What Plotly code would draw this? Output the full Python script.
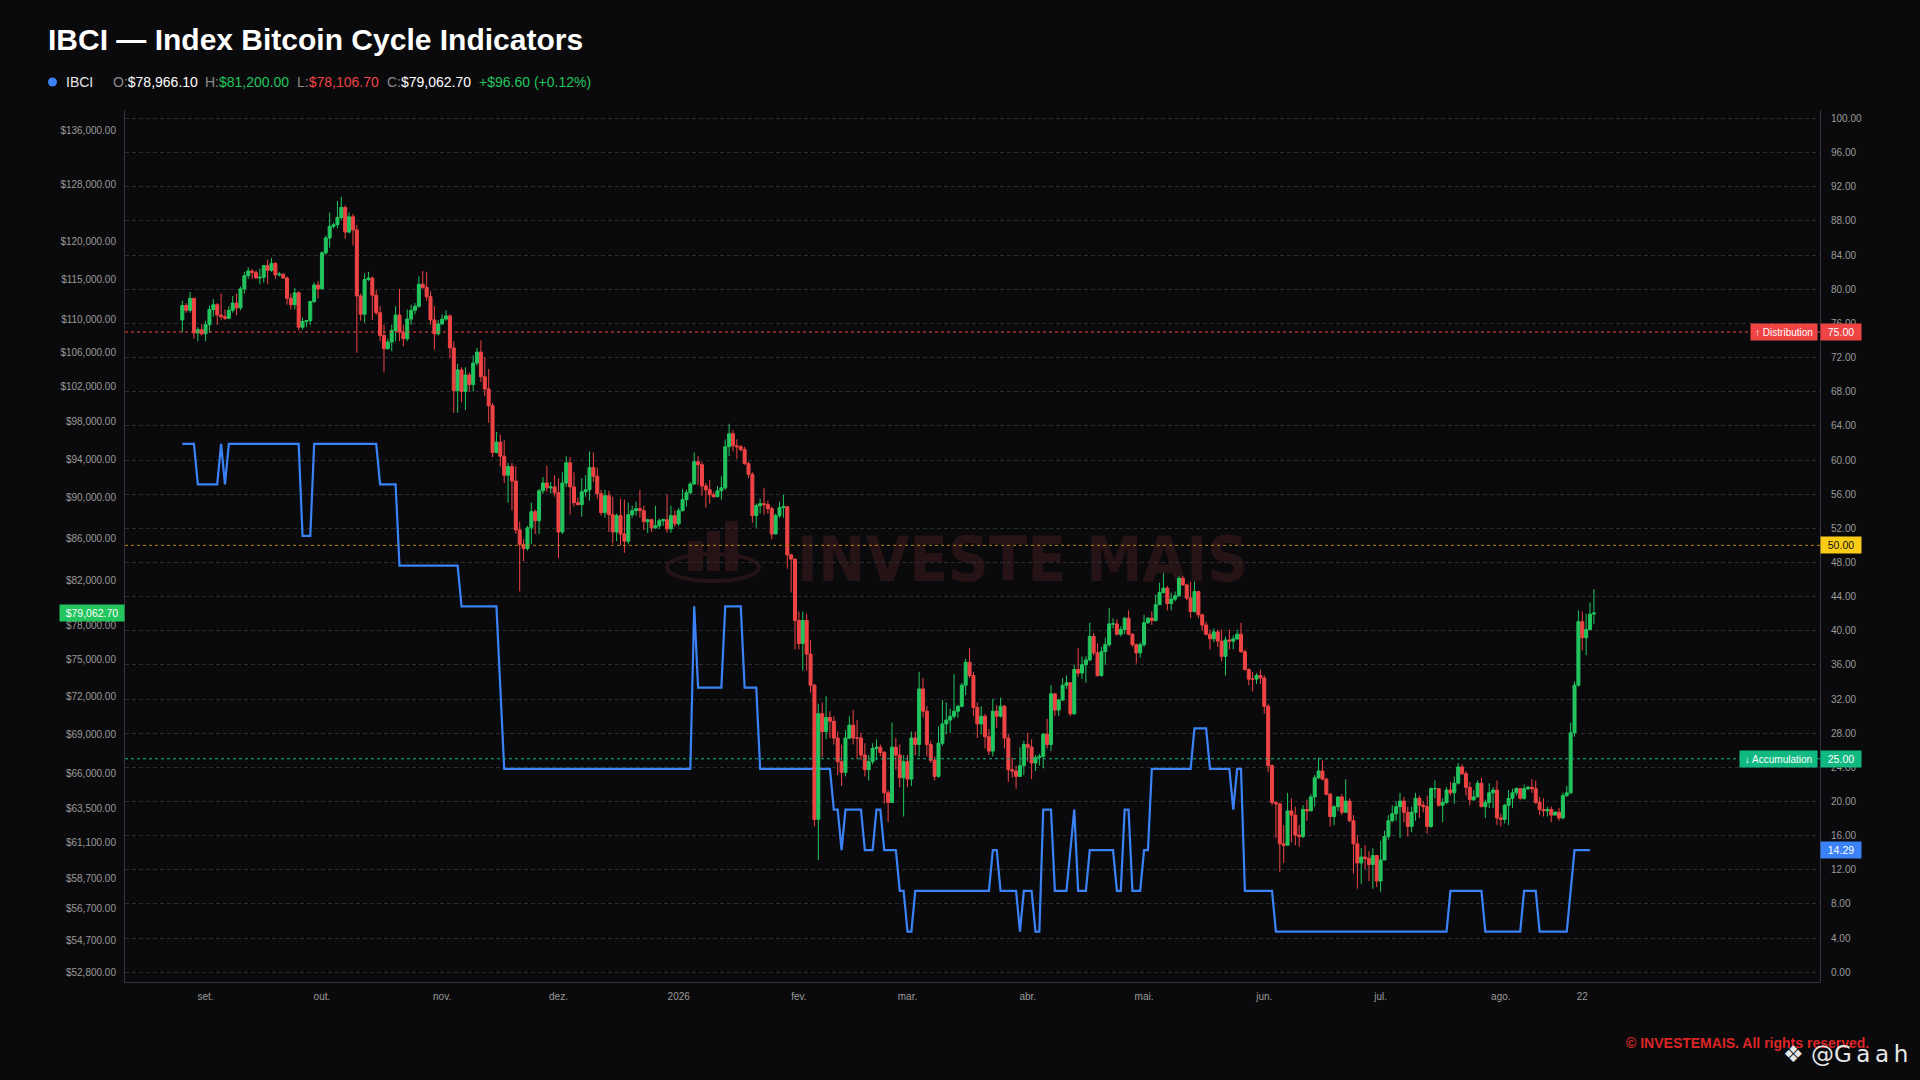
import numpy as np
import pandas as pd
import plotly.graph_objects as go

# ---- data (daily candles, thousands of USD) ----
START_DATE = "2025-08-26"
FIRST_OPEN_K = 109.9

CLOSE_K = [
    111.7, 111.1, 112.6, 108.3, 108.7, 108.2, 109.3, 111.2, 111.8, 110.5,
    110.3, 110.1, 111.1, 112.0, 111.4, 113.8, 115.5, 116.1, 115.9, 115.2,
    115.3, 116.8, 116.2, 117.1, 115.6, 115.7, 115.2, 112.6, 111.8, 113.3,
    109.0, 109.7, 109.8, 112.2, 114.3, 113.8, 118.5, 120.5, 122.1, 122.3,
    123.3, 124.7, 121.3, 123.4, 121.6, 112.9, 110.6, 115.0, 115.2, 113.0,
    110.8, 108.0, 106.4, 107.2, 108.6, 110.5, 108.4, 107.6, 110.0, 111.1,
    111.6, 114.4, 114.0, 112.8, 109.9, 108.2, 109.4, 110.0, 110.4, 106.5,
    101.5, 103.9, 101.4, 103.3, 102.2, 104.7, 106.0, 103.1, 101.7, 99.8,
    94.7, 95.8, 94.3, 92.3, 93.2, 91.7, 86.8, 85.4, 85.0, 87.0,
    88.6, 87.7, 90.7, 91.5, 91.0, 91.1, 90.5, 86.6, 91.5, 93.6,
    91.1, 89.5, 89.3, 90.6, 90.8, 93.1, 92.2, 90.4, 88.5, 90.2,
    88.3, 86.6, 88.2, 86.4, 85.7, 88.3, 88.7, 88.9, 88.7, 87.6,
    87.8, 87.0, 87.2, 87.7, 87.8, 86.9, 88.2, 87.4, 88.7, 89.8,
    90.5, 91.4, 93.7, 93.4, 91.2, 90.8, 90.3, 90.1, 90.7, 91.0,
    95.3, 96.7, 95.4, 95.3, 95.0, 93.5, 92.4, 88.2, 89.2, 89.4,
    89.3, 88.9, 86.4, 88.2, 89.0, 89.1, 84.4, 84.0, 78.4, 76.4,
    78.4, 75.5, 72.9, 62.7, 70.6, 69.2, 70.3, 70.0, 68.7, 66.9,
    66.1, 68.7, 69.7, 68.7, 68.7, 67.4, 66.3, 66.9, 67.9, 68.0,
    67.6, 64.6, 63.9, 68.0, 67.4, 65.7, 66.9, 65.6, 68.7, 68.2,
    72.6, 70.8, 68.2, 67.0, 65.8, 68.3, 69.8, 70.1, 70.4, 70.8,
    71.2, 72.9, 74.8, 73.7, 71.1, 69.8, 70.4, 68.8, 67.7, 70.8,
    70.4, 71.2, 68.7, 66.3, 66.2, 65.8, 66.6, 68.2, 68.0, 66.8,
    67.2, 67.3, 69.0, 68.2, 72.2, 70.9, 71.7, 72.9, 73.1, 70.6,
    74.2, 73.9, 74.6, 75.0, 77.0, 75.6, 73.7, 75.7, 76.3, 78.1,
    78.1, 77.2, 77.6, 78.6, 77.2, 76.3, 75.6, 76.3, 78.2, 78.6,
    78.4, 79.8, 80.9, 81.3, 79.9, 80.3, 80.6, 82.2, 81.6, 80.4,
    79.2, 81.0, 78.9, 78.0, 77.2, 76.8, 77.4, 76.6, 75.3, 76.7,
    76.6, 76.8, 77.2, 75.7, 74.2, 73.4, 73.4, 73.7, 73.5, 71.2,
    66.6, 63.9, 63.8, 61.0, 60.9, 63.3, 63.0, 61.6, 61.5, 63.4,
    63.3, 64.3, 65.7, 66.2, 65.6, 64.5, 62.9, 63.6, 64.3, 63.2,
    64.0, 62.6, 61.0, 59.7, 60.1, 60.0, 59.6, 60.2, 58.5, 59.9,
    61.5, 62.6, 63.1, 63.6, 64.0, 63.2, 62.2, 63.2, 64.2, 63.7,
    63.6, 62.2, 64.9, 64.9, 63.7, 63.9, 64.8, 64.6, 65.3, 66.5,
    66.0, 65.0, 64.1, 64.3, 65.3, 63.6, 63.9, 64.6, 64.8, 62.8,
    62.7, 63.7, 64.2, 64.6, 64.9, 64.2, 64.9, 65.0, 64.9, 63.9,
    63.4, 63.3, 63.4, 63.0, 63.2, 62.8, 64.4, 64.6, 69.1, 72.9,
    78.3, 76.9, 77.6, 78.9661, 79.0627,
]

HIGH_K = [
    112.3, 112.0, 113.4, 112.6, 109.0, 109.4, 109.8, 111.7, 112.5, 112.0,
    113.2, 111.2, 111.6, 112.9, 113.2, 114.1, 116.0, 116.6, 116.4, 116.2,
    116.4, 116.9, 117.6, 117.8, 117.3, 116.0, 115.8, 115.4, 113.2, 113.9,
    113.5, 110.2, 109.9, 112.3, 114.6, 114.8, 118.7, 120.8, 124.0, 122.6,
    125.6, 126.2, 125.0, 124.0, 123.8, 122.3, 113.2, 115.8, 116.0, 115.4,
    113.7, 111.6, 109.3, 107.6, 109.3, 111.6, 113.8, 109.3, 111.2, 111.8,
    112.0, 115.4, 116.1, 116.0, 113.5, 111.6, 109.9, 110.6, 111.1, 110.6,
    107.3, 104.6, 104.2, 104.2, 103.6, 105.6, 106.5, 107.4, 105.4, 104.0,
    100.1, 96.9, 96.6, 96.0, 93.6, 93.6, 93.2, 87.6, 85.9, 87.2,
    89.5, 88.8, 90.9, 92.1, 93.3, 91.6, 92.3, 92.0, 92.6, 94.3,
    94.2, 92.6, 90.0, 92.0, 92.3, 94.8, 94.7, 93.1, 90.8, 90.8,
    90.7, 90.1, 88.4, 89.9, 89.8, 89.5, 89.2, 89.6, 90.8, 89.2,
    87.9, 87.9, 89.2, 87.9, 87.9, 90.3, 89.2, 88.7, 89.0, 90.9,
    90.8, 91.6, 94.7, 94.3, 93.7, 91.5, 91.8, 90.6, 91.2, 92.2,
    96.1, 97.8, 97.1, 96.1, 95.5, 95.3, 93.7, 92.6, 89.4, 89.9,
    91.0, 89.7, 89.1, 88.4, 89.6, 90.3, 89.1, 84.5, 84.0, 79.2,
    79.2, 79.0, 76.7, 73.0, 71.4, 71.5, 72.0, 70.8, 70.4, 69.2,
    68.2, 69.3, 70.4, 70.9, 70.1, 69.1, 68.3, 67.4, 68.3, 68.6,
    68.2, 67.7, 64.8, 69.9, 68.7, 68.2, 67.4, 67.4, 69.2, 69.2,
    74.0, 73.5, 71.2, 68.5, 67.3, 69.6, 71.7, 71.5, 71.0, 73.8,
    71.3, 73.1, 75.1, 76.0, 74.0, 71.5, 71.2, 70.6, 69.4, 71.8,
    71.3, 71.9, 71.3, 69.0, 67.2, 66.6, 68.0, 68.5, 69.1, 68.6,
    67.4, 67.5, 69.1, 70.2, 72.9, 72.0, 71.8, 73.5, 73.7, 73.1,
    74.6, 76.0, 75.3, 75.3, 78.2, 77.3, 76.4, 76.1, 76.9, 79.5,
    78.6, 78.5, 77.9, 78.7, 79.3, 77.3, 76.4, 76.5, 78.9, 78.7,
    79.2, 80.7, 81.8, 82.7, 81.5, 80.9, 81.0, 82.4, 82.4, 81.7,
    81.9, 81.9, 81.0, 79.0, 78.3, 77.6, 77.7, 77.6, 77.6, 77.0,
    77.6, 77.1, 77.6, 78.2, 75.9, 74.3, 74.0, 73.9, 74.2, 73.7,
    71.4, 66.7, 64.0, 63.9, 62.3, 64.6, 64.2, 63.6, 62.3, 63.7,
    64.1, 64.5, 65.9, 67.2, 67.0, 65.7, 64.6, 63.7, 64.3, 64.5,
    65.6, 64.2, 63.0, 61.6, 60.7, 60.9, 60.5, 60.7, 60.2, 61.2,
    61.9, 63.0, 63.7, 64.0, 64.6, 64.3, 63.6, 63.6, 64.6, 64.4,
    64.0, 64.4, 65.0, 65.5, 64.9, 64.2, 65.0, 65.4, 65.8, 66.8,
    66.7, 66.2, 65.4, 64.8, 65.5, 65.7, 64.1, 65.3, 65.0, 65.5,
    63.1, 63.8, 64.8, 64.9, 65.0, 64.8, 65.2, 65.1, 65.6, 65.5,
    64.3, 64.2, 63.6, 63.6, 63.3, 63.5, 64.6, 65.1, 69.9, 73.2,
    79.3, 79.2, 79.0, 80.0, 81.2,
]

LOW_K = [
    108.4, 110.8, 110.8, 107.6, 107.3, 108.0, 107.3, 108.3, 110.3, 109.3,
    109.9, 109.9, 110.0, 110.8, 110.5, 111.1, 113.2, 115.1, 115.1, 115.1,
    114.4, 114.6, 114.4, 116.0, 115.1, 115.4, 115.1, 111.8, 111.2, 111.2,
    108.6, 108.7, 109.0, 109.3, 112.0, 112.6, 113.8, 118.2, 119.2, 121.8,
    121.8, 122.9, 120.4, 121.1, 119.5, 105.9, 109.8, 109.6, 114.8, 109.9,
    110.5, 107.3, 103.6, 106.3, 106.1, 107.3, 107.3, 106.7, 107.3, 109.3,
    110.6, 111.4, 113.8, 112.3, 109.3, 106.3, 108.0, 109.3, 109.8, 105.3,
    99.0, 99.0, 100.2, 99.3, 101.4, 101.4, 104.4, 102.5, 100.9, 97.9,
    94.2, 94.6, 93.2, 91.5, 89.5, 88.7, 86.4, 81.0, 83.8, 84.8,
    85.4, 86.4, 86.4, 90.4, 90.6, 90.4, 90.1, 84.1, 86.4, 91.1,
    88.3, 89.1, 89.2, 88.1, 90.1, 89.7, 91.6, 89.9, 88.2, 88.0,
    86.6, 85.5, 85.7, 85.3, 84.6, 85.4, 88.0, 88.2, 88.0, 86.8,
    86.5, 86.6, 86.9, 86.9, 87.2, 86.5, 86.5, 87.1, 87.2, 88.6,
    89.1, 90.3, 91.3, 91.3, 90.2, 89.0, 89.4, 90.0, 90.1, 89.8,
    90.8, 94.3, 94.8, 94.0, 94.8, 93.4, 92.0, 87.5, 87.0, 88.4,
    88.3, 88.4, 85.9, 86.4, 88.0, 88.0, 83.1, 80.9, 75.9, 75.9,
    74.1, 74.1, 72.3, 62.2, 59.9, 67.2, 68.6, 68.7, 68.2, 65.9,
    65.1, 65.8, 68.6, 68.2, 67.1, 67.0, 65.8, 65.5, 66.7, 67.0,
    67.3, 63.8, 62.5, 63.9, 66.3, 65.0, 62.9, 65.0, 65.1, 67.4,
    67.3, 70.3, 67.3, 66.8, 65.5, 65.7, 68.1, 69.0, 69.1, 70.2,
    70.3, 71.1, 72.1, 73.5, 70.4, 68.7, 69.0, 67.9, 67.4, 67.3,
    69.5, 70.3, 67.9, 65.4, 65.7, 64.9, 65.8, 65.9, 66.9, 65.6,
    66.2, 66.6, 66.4, 67.9, 67.7, 70.4, 70.4, 71.6, 72.6, 70.4,
    70.5, 73.6, 73.4, 73.1, 74.9, 75.4, 73.6, 73.6, 74.6, 76.1,
    77.7, 77.1, 77.0, 77.2, 77.1, 76.1, 74.7, 75.2, 76.1, 78.1,
    78.0, 78.3, 79.8, 80.8, 79.3, 79.3, 80.1, 80.5, 81.5, 80.2,
    78.6, 79.1, 78.6, 77.5, 77.1, 75.9, 76.5, 76.1, 74.9, 73.7,
    75.9, 75.9, 76.7, 75.6, 74.1, 72.9, 72.4, 73.0, 73.0, 70.6,
    66.1, 63.7, 61.4, 59.1, 59.7, 60.9, 61.1, 60.9, 60.8, 61.4,
    62.6, 63.3, 63.6, 65.6, 65.5, 64.4, 62.2, 62.3, 63.3, 63.0,
    63.2, 62.5, 59.0, 58.0, 58.3, 59.3, 58.5, 58.0, 58.1, 57.8,
    59.9, 61.3, 62.5, 62.6, 61.4, 62.5, 61.5, 61.8, 62.6, 62.8,
    63.2, 61.7, 62.1, 64.2, 63.6, 62.5, 63.8, 64.4, 63.8, 65.2,
    65.9, 64.4, 63.7, 64.0, 64.3, 63.6, 62.8, 63.5, 63.5, 62.3,
    62.2, 62.4, 62.3, 63.5, 64.4, 64.1, 64.1, 64.8, 64.6, 63.8,
    63.0, 62.9, 62.9, 62.5, 63.0, 62.6, 62.7, 64.3, 64.5, 68.8,
    72.8, 75.8, 75.4, 77.6, 78.1067,
]

# IBCI indicator, right axis (0-100), one value per day
IBCI = [
    61.90, 61.90, 61.90, 61.90, 57.14, 57.14, 57.14, 57.14, 57.14, 57.14,
    61.90, 57.14, 61.90, 61.90, 61.90, 61.90, 61.90, 61.90, 61.90, 61.90,
    61.90, 61.90, 61.90, 61.90, 61.90, 61.90, 61.90, 61.90, 61.90, 61.90,
    61.90, 51.11, 51.11, 51.11, 61.90, 61.90, 61.90, 61.90, 61.90, 61.90,
    61.90, 61.90, 61.90, 61.90, 61.90, 61.90, 61.90, 61.90, 61.90, 61.90,
    61.90, 57.14, 57.14, 57.14, 57.14, 57.14, 47.62, 47.62, 47.62, 47.62,
    47.62, 47.62, 47.62, 47.62, 47.62, 47.62, 47.62, 47.62, 47.62, 47.62,
    47.62, 47.62, 42.86, 42.86, 42.86, 42.86, 42.86, 42.86, 42.86, 42.86,
    42.86, 42.86, 33.33, 23.81, 23.81, 23.81, 23.81, 23.81, 23.81, 23.81,
    23.81, 23.81, 23.81, 23.81, 23.81, 23.81, 23.81, 23.81, 23.81, 23.81,
    23.81, 23.81, 23.81, 23.81, 23.81, 23.81, 23.81, 23.81, 23.81, 23.81,
    23.81, 23.81, 23.81, 23.81, 23.81, 23.81, 23.81, 23.81, 23.81, 23.81,
    23.81, 23.81, 23.81, 23.81, 23.81, 23.81, 23.81, 23.81, 23.81, 23.81,
    23.81, 23.81, 42.86, 33.33, 33.33, 33.33, 33.33, 33.33, 33.33, 33.33,
    42.86, 42.86, 42.86, 42.86, 42.86, 33.33, 33.33, 33.33, 33.33, 23.81,
    23.81, 23.81, 23.81, 23.81, 23.81, 23.81, 23.81, 23.81, 23.81, 23.81,
    23.81, 23.81, 23.81, 23.81, 23.81, 23.81, 23.81, 23.81, 19.05, 19.05,
    14.29, 19.05, 19.05, 19.05, 19.05, 19.05, 14.29, 14.29, 14.29, 19.05,
    19.05, 14.29, 14.29, 14.29, 14.29, 9.52, 9.52, 4.76, 4.76, 9.52,
    9.52, 9.52, 9.52, 9.52, 9.52, 9.52, 9.52, 9.52, 9.52, 9.52,
    9.52, 9.52, 9.52, 9.52, 9.52, 9.52, 9.52, 9.52, 9.52, 14.29,
    14.29, 9.52, 9.52, 9.52, 9.52, 9.52, 4.76, 9.52, 9.52, 9.52,
    4.76, 4.76, 19.05, 19.05, 19.05, 9.52, 9.52, 9.52, 9.52, 14.29,
    19.05, 9.52, 9.52, 9.52, 14.29, 14.29, 14.29, 14.29, 14.29, 14.29,
    14.29, 9.52, 9.52, 19.05, 19.05, 9.52, 9.52, 9.52, 14.29, 14.29,
    23.81, 23.81, 23.81, 23.81, 23.81, 23.81, 23.81, 23.81, 23.81, 23.81,
    23.81, 28.57, 28.57, 28.57, 28.57, 23.81, 23.81, 23.81, 23.81, 23.81,
    23.81, 19.05, 23.81, 23.81, 9.52, 9.52, 9.52, 9.52, 9.52, 9.52,
    9.52, 9.52, 4.76, 4.76, 4.76, 4.76, 4.76, 4.76, 4.76, 4.76,
    4.76, 4.76, 4.76, 4.76, 4.76, 4.76, 4.76, 4.76, 4.76, 4.76,
    4.76, 4.76, 4.76, 4.76, 4.76, 4.76, 4.76, 4.76, 4.76, 4.76,
    4.76, 4.76, 4.76, 4.76, 4.76, 4.76, 4.76, 4.76, 4.76, 4.76,
    4.76, 4.76, 4.76, 4.76, 4.76, 4.76, 4.76, 9.52, 9.52, 9.52,
    9.52, 9.52, 9.52, 9.52, 9.52, 9.52, 4.76, 4.76, 4.76, 4.76,
    4.76, 4.76, 4.76, 4.76, 4.76, 4.76, 9.52, 9.52, 9.52, 9.52,
    4.76, 4.76, 4.76, 4.76, 4.76, 4.76, 4.76, 4.76, 9.52, 14.29,
    14.29, 14.29, 14.29, 14.29, None,
]

PRICE_TICKS = [52800, 54700, 56700, 58700, 61100, 63500, 66000, 69000, 72000,
               75000, 78000, 82000, 86000, 90000, 94000, 98000, 102000, 106000,
               110000, 115000, 120000, 128000, 136000]
DATE_TICKS = ["2025-09-01", "2025-10-01", "2025-11-01", "2025-12-01", "2026-01-01",
              "2026-02-01", "2026-03-01", "2026-04-01", "2026-05-01", "2026-06-01",
              "2026-07-01", "2026-08-01", "2026-08-22"]
DATE_LABELS = ["set.", "out.", "nov.", "dez.", "2026", "fev.", "mar.", "abr.",
               "mai.", "jun.", "jul.", "ago.", "22"]
ZONES = [(75, "↑ Distribution", 64), (50, None, 0), (25, "↓ Accumulation", 75)]

# ---- colours ----
BG = "#0a0a0c"
GRID = "#2b2b30"
AXIS = "#34343a"
TICK = "#9a9a9a"
UP = "#22c55e"
DOWN = "#ef4444"
BLUE = "#3b82f6"
ZONE_LINE = {75: "#ef4444", 50: "#b8860b", 25: "#10b981"}
ZONE_BOX = {75: "#ef4444", 50: "#facc15", 25: "#10b981"}
WM = "#261315"
FONT = "Liberation Sans, Arial, sans-serif"

W, H = 1920, 1080
X0, X1 = 125 / W, 1820 / W
Y0, Y1 = 1 - 982 / H, 1 - 110 / H


def px(x):
    return x / W


def py(y):
    return 1 - y / H


dates = pd.date_range(START_DATE, periods=len(CLOSE_K), freq="D")
open_k = [FIRST_OPEN_K] + CLOSE_K[:-1]
opens = [o * 1000 for o in open_k]
closes = [c * 1000 for c in CLOSE_K]
highs = [max(h, o, c) * 1000 for h, o, c in zip(HIGH_K, open_k, CLOSE_K)]
lows = [min(l, o, c) * 1000 for l, o, c in zip(LOW_K, open_k, CLOSE_K)]

fig = go.Figure()

fig.add_trace(go.Scatter(
    x=dates, y=IBCI, mode="lines", yaxis="y",
    line=dict(color=BLUE, width=2.2), hoverinfo="skip"))

fig.add_trace(go.Candlestick(
    x=dates, open=opens, high=highs, low=lows, close=closes, yaxis="y2",
    increasing=dict(line=dict(color=UP, width=1), fillcolor=UP),
    decreasing=dict(line=dict(color=DOWN, width=1), fillcolor=DOWN),
    whiskerwidth=0))

fig.update_layout(
    width=W, height=H,
    paper_bgcolor=BG, plot_bgcolor=BG,
    margin=dict(l=0, r=0, t=0, b=0),
    showlegend=False,
    boxgap=0.12, boxgroupgap=0.12,
    font=dict(family=FONT, color=TICK, size=10),
    xaxis=dict(
        type="date", domain=[X0, X1],
        range=["2025-08-11 05:17", "2026-10-22 07:12"],
        tickvals=DATE_TICKS, ticktext=DATE_LABELS,
        showgrid=False, zeroline=False, showline=True, linecolor=AXIS,
        ticks="", ticklabelstandoff=5,
        tickfont=dict(size=10, color=TICK),
        rangeslider=dict(visible=False)),
    yaxis=dict(
        domain=[Y0, Y1], side="right", anchor="x",
        range=[-1.15, 101.0], tick0=0, dtick=4, tickformat=".2f",
        showgrid=True, gridcolor=GRID, griddash="4px,3px", gridwidth=1,
        zeroline=False, showline=True, linecolor=AXIS,
        ticks="", ticklabelstandoff=8,
        tickfont=dict(size=10, color=TICK)),
    yaxis2=dict(
        overlaying="y", side="left", anchor="x", type="log",
        range=[np.log10(52227), np.log10(139137)],
        tickvals=PRICE_TICKS, ticktext=[f"${v:,.2f}" for v in PRICE_TICKS],
        showgrid=False, zeroline=False, showline=True, linecolor=AXIS,
        ticks="", ticklabelstandoff=6,
        tickfont=dict(size=10, color=TICK)),
)

# zone lines and their badges
for level, name, bw in ZONES:
    fig.add_shape(type="line", xref="x domain", x0=0, x1=1, yref="y",
                  y0=level, y1=level,
                  line=dict(color=ZONE_LINE[level], width=1, dash="3px,3px"))
    fig.add_annotation(xref="paper", x=X1, xanchor="left", yref="y", y=level,
                       text=f"{level:.2f}", showarrow=False,
                       bgcolor=ZONE_BOX[level], width=38, height=14, borderpad=1,
                       font=dict(size=10.5, color="#111111" if level == 50 else "#ffffff"))
    if name:
        fig.add_annotation(xref="paper", x=px(1818), xanchor="right", yref="y", y=level,
                           text=name, showarrow=False, bgcolor=ZONE_BOX[level],
                           width=bw, height=14, borderpad=1,
                           font=dict(size=10, color="#ffffff"))

# last IBCI value badge
last_ibci = [v for v in IBCI if v is not None][-1]
fig.add_annotation(xref="paper", x=X1, xanchor="left", yref="y", y=last_ibci,
                   text=f"{last_ibci:.2f}", showarrow=False, bgcolor=BLUE,
                   width=38, height=14, borderpad=1,
                   font=dict(size=10.5, color="#ffffff"))

# last price badge on the left axis
last_close = closes[-1]
fig.add_annotation(xref="paper", x=X0, xanchor="right", yref="y2",
                   y=np.log10(last_close), text=f"${last_close:,.2f}",
                   showarrow=False, bgcolor=UP, width=62, height=14, borderpad=1,
                   font=dict(size=10.5, color="#ffffff"))

# watermark
fig.add_shape(type="rect", xref="paper", yref="paper",
              x0=px(780), x1=px(1265), y0=py(600), y1=py(508),
              line=dict(width=0), fillcolor="rgba(0,0,0,0)", layer="below",
              label=dict(text="<b>INVESTE MAIS</b>", textposition="middle center",
                         font=dict(family="Liberation Sans Narrow, DejaVu Sans Condensed, Arial Narrow, Liberation Sans",
                                   size=63, color=WM)))
fig.add_shape(type="circle", xref="paper", yref="paper",
              x0=px(667), x1=px(759), y0=py(581), y1=py(554),
              line=dict(color=WM, width=4), layer="below")
for bx0, bx1, top in [(688, 703, 541), (707, 720, 531), (725, 738, 521)]:
    fig.add_shape(type="rect", xref="paper", yref="paper",
                  x0=px(bx0), x1=px(bx1), y0=py(571), y1=py(top),
                  line=dict(width=0), fillcolor=WM, layer="below")

# title and OHLC header
fig.add_annotation(xref="paper", yref="paper", x=px(46), y=py(40),
                   xanchor="left", yanchor="middle", showarrow=False,
                   text="<b>IBCI — Index Bitcoin Cycle Indicators</b>",
                   font=dict(size=30, color="#ffffff", family=FONT))

fig.add_shape(type="circle", xref="paper", yref="paper",
              x0=px(48), x1=px(57), y0=py(86.5), y1=py(77.5),
              line=dict(width=0), fillcolor=BLUE)

o, hi, lo, c = opens[-1], highs[-1], lows[-1], closes[-1]
chg = c - o
header = [
    (64, "<span style='color:#e5e5e5'>IBCI</span>"),
    (111, f"<span style='color:#8a8a8a'>O:</span><span style='color:#ffffff'>${o:,.2f}</span>"),
    (203, f"<span style='color:#8a8a8a'>H:</span><span style='color:{UP}'>${hi:,.2f}</span>"),
    (295, f"<span style='color:#8a8a8a'>L:</span><span style='color:{DOWN}'>${lo:,.2f}</span>"),
    (385, f"<span style='color:#8a8a8a'>C:</span><span style='color:#ffffff'>${c:,.2f}</span>"),
    (477, f"<span style='color:{UP}'>+${chg:,.2f} (+{chg / o * 100:.2f}%)</span>"),
]
for hx, txt in header:
    fig.add_annotation(xref="paper", yref="paper", x=px(hx), y=py(82),
                       xanchor="left", yanchor="middle", showarrow=False,
                       text=txt, font=dict(size=14, family=FONT))

# footer
fig.add_annotation(xref="paper", yref="paper", x=px(1871), y=py(1043),
                   xanchor="right", yanchor="middle", showarrow=False,
                   text="<b>© INVESTEMAIS. All rights reserved.</b>",
                   font=dict(size=14, color="#dc2626", family=FONT))
fig.add_annotation(xref="paper", yref="paper", x=px(1781), y=py(1054),
                   xanchor="left", yanchor="middle", showarrow=False,
                   text="❖ @G\u2009a\u2009a\u2009h",
                   font=dict(size=23, color="#e8e8e8", family="DejaVu Sans, sans-serif"))

fig.write_html("out.html", config={"displayModeBar": False},
               post_script="document.body.style.margin='0';")
